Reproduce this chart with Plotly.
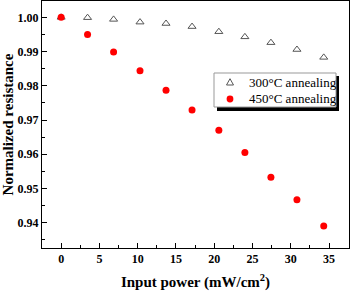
import plotly.graph_objects as go

power = [0, 3.45, 6.85, 10.3, 13.7, 17.1, 20.6, 24.0, 27.4, 30.8, 34.3]
r300 = [1.000, 0.9999, 0.9994, 0.9986, 0.9982, 0.9973, 0.9958, 0.9943, 0.9926, 0.9906, 0.9883]
r450 = [1.000, 0.9950, 0.9899, 0.9844, 0.9787, 0.9729, 0.9670, 0.9605, 0.9533, 0.9467, 0.9390]
series_names = ["300°C annealing", "450°C annealing"]
x_ticks = [0, 5, 10, 15, 20, 25, 30, 35]
y_ticks = [0.94, 0.95, 0.96, 0.97, 0.98, 0.99, 1.00]

FONT = "'Liberation Serif', 'Times New Roman', Times, serif"
TRI_COLOR = "#555555"
DOT_COLOR = "#ff0000"

fig = go.Figure()
fig.add_trace(go.Scatter(
    x=power, y=r300, mode="markers", name=series_names[0], showlegend=False,
    marker=dict(symbol="triangle-up-open", size=7, color=TRI_COLOR, line=dict(width=1))))
fig.add_trace(go.Scatter(
    x=power, y=r450, mode="markers", name=series_names[1], showlegend=False,
    marker=dict(symbol="circle", size=7, color=DOT_COLOR)))

W, H = 350, 291
L, R, T, B = 42, 1, 1, 43
pw, ph = W - L - R, H - T - B

def px(p):
    return (p - L) / pw

def py(p):
    return (H - B - p) / ph

# legend box with shadow
fig.add_shape(type="rect", xref="paper", yref="paper",
              x0=px(217), x1=px(339), y0=py(111), y1=py(76),
              fillcolor="black", line=dict(width=0), layer="above")
fig.add_shape(type="rect", xref="paper", yref="paper",
              x0=px(214), x1=px(336), y0=py(107), y1=py(73),
              fillcolor="white", line=dict(width=1, color="#999999"), layer="above")
# legend symbols
fig.add_shape(type="path", xref="paper", yref="paper",
              xsizemode="pixel", ysizemode="pixel",
              xanchor=px(230), yanchor=py(82),
              path="M -3.5,-3 L 3.5,-3 L 0,3.3 Z",
              fillcolor="white", line=dict(width=1, color=TRI_COLOR), layer="above")
fig.add_shape(type="circle", xref="paper", yref="paper",
              xsizemode="pixel", ysizemode="pixel",
              xanchor=px(230), yanchor=py(99),
              x0=-3.4, x1=3.4, y0=-3.4, y1=3.4,
              fillcolor=DOT_COLOR, line=dict(width=0), layer="above")
for name, yy in zip(series_names, [82.5, 99]):
    fig.add_annotation(xref="paper", yref="paper", x=px(247), y=py(yy),
                       xanchor="left", yanchor="middle", text=name, showarrow=False,
                       font=dict(family=FONT, size=13, color="black"))

axis_common = dict(
    showgrid=False, zeroline=False, showline=True, linecolor="black", linewidth=1,
    mirror=True, ticks="inside", ticklen=5, tickwidth=1, tickcolor="black",
    automargin=False,
    tickfont=dict(family=FONT, size=12, color="black", weight="bold"),
)

fig.update_xaxes(range=[-2.5, 37.6], tickvals=x_ticks,
                 ticktext=[str(v) for v in x_ticks],
                 minor=dict(ticks="inside", ticklen=3, dtick=2.5, tick0=0, tickcolor="black"),
                 title=dict(text="Input power (mW/cm<sup>2</sup>)", standoff=14,
                            font=dict(family=FONT, size=15, color="black", weight="bold")),
                 **axis_common)
fig.update_yaxes(range=[0.9326, 1.00477], tickvals=y_ticks,
                 ticktext=[f"{v:.2f}" for v in y_ticks],
                 minor=dict(ticks="inside", ticklen=3, dtick=0.005, tick0=0.94, tickcolor="black"),
                 title=dict(text="Normalized resistance", standoff=6,
                            font=dict(family=FONT, size=15, color="black", weight="bold")),
                 **axis_common)

fig.update_layout(
    width=W, height=H,
    margin=dict(l=L, r=R, t=T, b=B),
    paper_bgcolor="white", plot_bgcolor="white",
    showlegend=False,
)

fig.write_html("out.html", config={"displayModeBar": False},
               post_script="document.body.style.margin='0';")
